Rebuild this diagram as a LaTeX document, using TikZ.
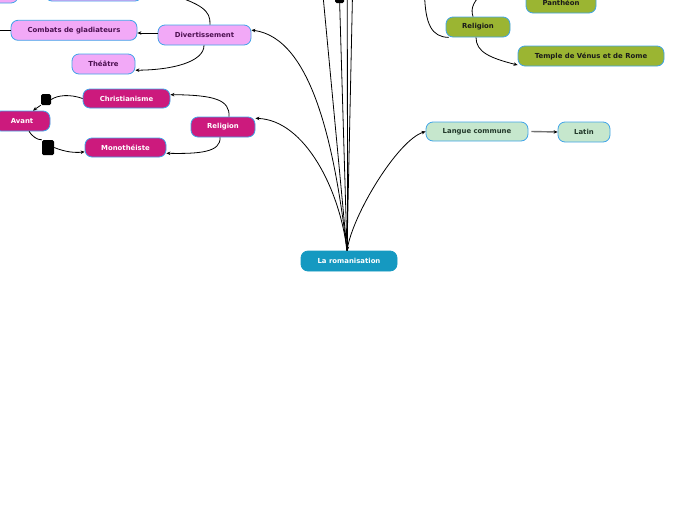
\documentclass[tikz,border=0pt]{standalone}
\usepackage{fontspec}
\setmainfont{DejaVu Sans}
\usetikzlibrary{arrows.meta}
\definecolor{rootc}{HTML}{1599C1}
\definecolor{lgc}{HTML}{C6E7CD}
\definecolor{lgt}{HTML}{22382A}
\definecolor{ogc}{HTML}{9BB532}
\definecolor{pkc}{HTML}{F2A9F7}
\definecolor{pkt}{HTML}{4C1050}
\definecolor{mgc}{HTML}{CC1A7D}
\definecolor{bdc}{HTML}{40A4E8}
\tikzset{
  box/.style={draw=bdc, line width=0.8pt, rounded corners=7pt, inner sep=0pt,
    minimum height=20pt, font=\fontsize{6.9}{8}\selectfont\bfseries},
  rootbox/.style={box, fill=rootc, draw=rootc, text=white},
  lgbox/.style={box, fill=lgc, text=lgt},
  ogbox/.style={box, fill=ogc, text=black!90},
  pkbox/.style={box, fill=pkc, text=pkt},
  mgbox/.style={box, fill=mgc, text=white},
  sqbox/.style={fill=black, rounded corners=1.5pt, inner sep=0pt},
  conn/.style={line width=0.8pt, black},
  arr/.style={conn, -{Stealth[length=4pt,width=3.5pt]}},
  garr/.style={line width=1.4pt, black!55, -{Stealth[length=4pt,width=3.5pt,color=black]}}
}
\begin{document}
\begin{tikzpicture}[x=1pt,y=-1pt]
\useasboundingbox (0,0) rectangle (696,520);
% nodes
\node[rootbox, minimum width=96pt] (root) at (349,261) {La romanisation};
\node[lgbox, minimum width=102pt, minimum height=19pt] (lc) at (477,131.5) {Langue commune};
\node[lgbox, minimum width=52pt] (lat) at (584,132) {Latin};
\node[ogbox, minimum width=64pt] (rel1) at (478,27) {Religion};
\node[ogbox, minimum width=70pt] (panth) at (561,3) {Panthéon};
\node[ogbox, minimum width=146pt] (temple) at (591,56) {Temple de Vénus et de Rome};
\node[pkbox, minimum width=93pt] (div) at (204.5,35) {Divertissement};
\node[pkbox, minimum width=126pt] (comb) at (74,30.3) {Combats de gladiateurs};
\node[pkbox, minimum width=63pt] (theat) at (103.5,64) {Théâtre};
\node[pkbox, minimum width=76pt] (tla) at (-20,-7) {};
\node[pkbox, minimum width=97pt] (tlb) at (93.5,-9) {};
\node[mgbox, minimum width=64pt] (rel2) at (223,127) {Religion};
\node[mgbox, minimum width=87pt, minimum height=19pt] (chr) at (126.5,98.5) {Christianisme};
\node[mgbox, minimum width=81pt, minimum height=19pt] (mono) at (125.5,147.5) {Monothéiste};
\node[mgbox, minimum width=56pt] (avant) at (22,121) {Avant};
\node[sqbox, minimum width=10pt, minimum height=11pt] (s1) at (46,99.5) {};
\node[sqbox, minimum width=12pt, minimum height=15pt] (s2) at (48,147.5) {};
\node[sqbox, minimum width=9pt, minimum height=10pt] (s3) at (339.5,-2) {};
% off-page ends
\coordinate (t1) at (322.5,-10);
\coordinate (t2) at (347.3,-10);
\coordinate (t3) at (352.6,-10);
\coordinate (dtop) at (170,-6);
\coordinate (gtop) at (424.5,-8);
\coordinate (ptop) at (486,-10);
\coordinate (cl) at (-10,30.3);
% root connectors
\draw[arr] ([xshift=-2pt]root.north) .. controls (352,215) and (398,140) .. (lc.west);
\draw[garr] ([xshift=3pt]lc.east) -- (lat.west);
\draw[arr] ([xshift=-2pt]root.north) .. controls (340,190) and (305,120) .. (rel2.15);
\draw[arr] ([xshift=-2pt]root.north) .. controls (335,150) and (313,38) .. (div.6);
\draw[conn] ([xshift=-2pt]root.north) -- (t1);
\draw[conn] ([xshift=-2pt]root.north) -- (s3);
\draw[arr] (t2) -- ([xshift=-1.5pt]root.north);
\draw[conn] ([xshift=-2pt]root.north) -- (t3);
% green religion
\draw[conn] (gtop) .. controls (425,25) and (432,37) .. ([xshift=3pt]rel1.south west);
\draw[conn] ([xshift=-5pt]rel1.north) .. controls (470,8) and (474,0) .. (ptop);
\draw[arr] ([xshift=-2pt]rel1.south) .. controls (476,52) and (490,58) .. (temple.187);
% divertissement
\draw[conn] ([xshift=5.5pt]div.north) .. controls (211,10) and (200,4) .. (dtop);
\draw[arr] ([yshift=2pt]div.west) -- ([yshift=-2.7pt]comb.east);
\draw[arr] ([xshift=-0.5pt]div.south) .. controls (204,62) and (172,70) .. (theat.-11);
\draw[conn] (cl) -- (comb.west);
% magenta religion
\draw[arr] ([xshift=6pt]rel2.north) .. controls (230,100) and (215,95) .. (chr.5);
\draw[arr] ([xshift=-3pt]rel2.south) .. controls (221,152) and (200,154) .. (mono.-8);
\draw[conn] (chr.west) .. controls (70,94) and (58,95) .. (s1.east);
\draw[arr] (s1.south west) -- ([xshift=11pt]avant.north);
\draw[conn] ([xshift=7pt]avant.south) .. controls (32,136) and (37,140) .. (s2.north west);
\draw[arr] (s2.east) .. controls (65,152) and (75,153) .. (mono.186);
\end{tikzpicture}
\end{document}
